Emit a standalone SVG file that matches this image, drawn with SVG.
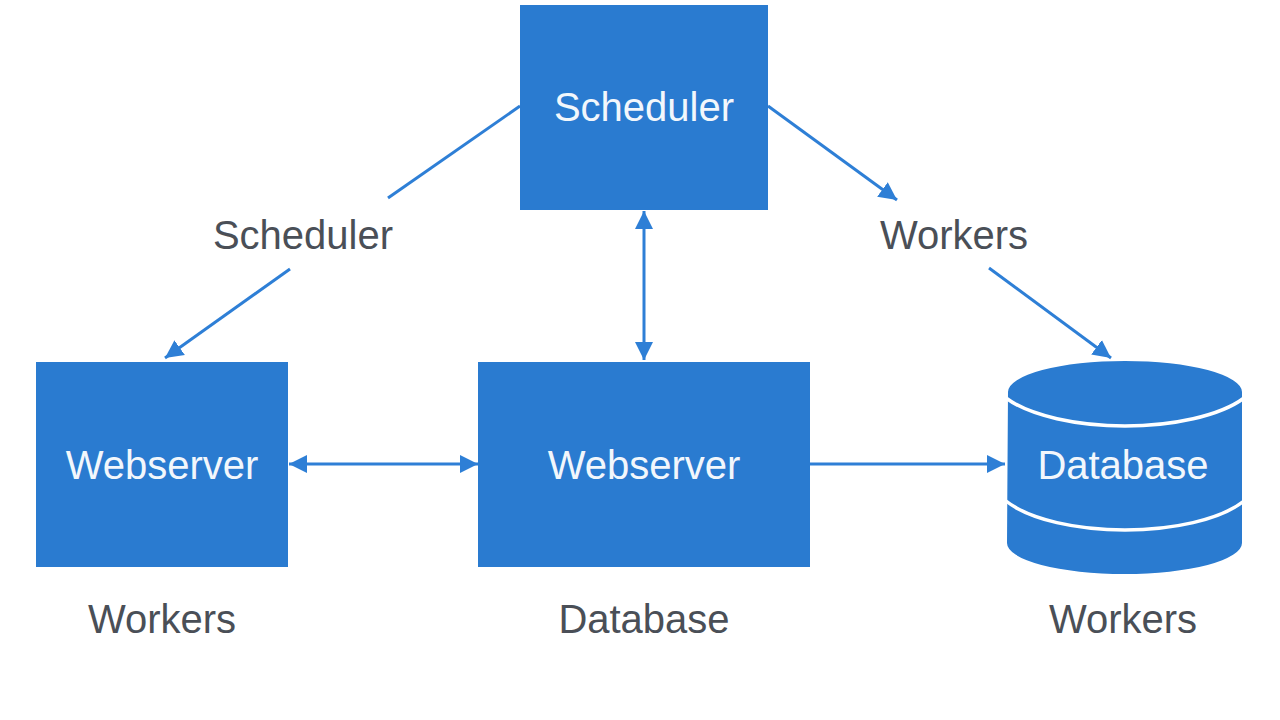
<svg xmlns="http://www.w3.org/2000/svg" width="1280" height="720" viewBox="0 0 1280 720">
<style>
.box{fill:#2a7bd0}
.w{fill:#f2f7fc;font:40px "Liberation Sans",Arial,sans-serif;text-anchor:middle}
.g{fill:#4a4f57;font:40px "Liberation Sans",Arial,sans-serif;text-anchor:middle}
.c{stroke:#2e7fd6;stroke-width:3;fill:none}
</style>
<defs>
<marker id="a" markerUnits="userSpaceOnUse" markerWidth="20" markerHeight="20" refX="18" refY="10" orient="auto-start-reverse"><path d="M0 1L18 10L0 19z" fill="#2e7fd6"/></marker>
</defs>
<rect width="1280" height="720" fill="#fff"/>
<g id="connectors">
<path class="c" d="M520 106L388 198"/>
<path class="c" d="M290 269L165 358" marker-end="url(#a)"/>
<path class="c" d="M768 106L897 200" marker-end="url(#a)"/>
<path class="c" d="M989 268L1111 358" marker-end="url(#a)"/>
<path class="c" d="M644 211V360" marker-start="url(#a)" marker-end="url(#a)"/>
<path class="c" d="M289 464H478" marker-start="url(#a)" marker-end="url(#a)"/>
<path class="c" d="M810 464H1005" marker-end="url(#a)"/>
</g>
<g id="scheduler-node"><rect class="box" x="520" y="5" width="248" height="205"/><text class="w" x="644" y="121">Scheduler</text></g>
<g id="webserver-left"><rect class="box" x="36" y="362" width="252" height="205"/><text class="w" x="162" y="478.500">Webserver</text></g>
<g id="webserver-center"><rect class="box" x="478" y="362" width="332" height="205"/><text class="w" x="644" y="478.500">Webserver</text></g>
<g id="database-node">
<path class="box" d="M1008 392A117 31 0 0 1 1242 392V543A117.500 31 0 0 1 1007 543Z"/>
<path d="M1006 398C1030 416 1078 426 1125 426C1172 426 1220 416 1244 398M1006 501C1030 520 1078 530 1125 530C1172 530 1220 520 1244 501" fill="none" stroke="#fff" stroke-width="3.500"/>
<text class="w" x="1123" y="478.500">Database</text>
</g>
<g id="label-scheduler"><text class="g" x="303" y="249">Scheduler</text></g>
<g id="label-workers-top"><text class="g" x="954" y="249">Workers</text></g>
<g id="label-workers-left"><text class="g" x="162" y="633">Workers</text></g>
<g id="label-database"><text class="g" x="644" y="633">Database</text></g>
<g id="label-workers-right"><text class="g" x="1123" y="633">Workers</text></g>
</svg>
